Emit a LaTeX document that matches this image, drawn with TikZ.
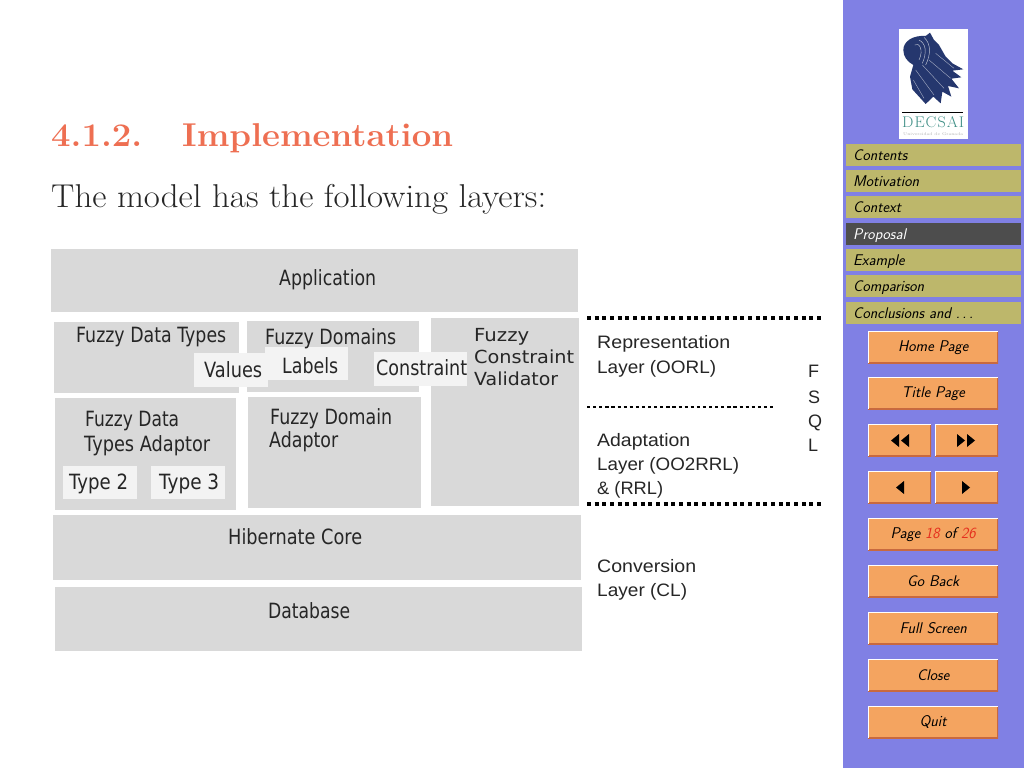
\documentclass[tikz,border=0pt]{standalone}
\usepackage{fontspec}
\usepackage{graphicx}
\newfontfamily\djvfont{DejaVu Sans}
\newfontfamily\libfont{Liberation Sans}
\newcommand{\fitw}[2]{\resizebox{#1pt}{\height}{#2}}
\definecolor{sidebg}{HTML}{8080E4}
\definecolor{menuc}{HTML}{BDB76B}
\definecolor{menud}{HTML}{4D4D4D}
\definecolor{btn}{HTML}{F4A460}
\definecolor{btnd}{HTML}{C8693F}
\definecolor{boxg}{HTML}{D9D9D9}
\definecolor{boxl}{HTML}{F3F3F3}
\definecolor{coral}{HTML}{EE6F52}
\definecolor{navy}{HTML}{25376E}
\definecolor{teal2}{HTML}{3F8F86}
\definecolor{pagered}{HTML}{E5301E}
\tikzset{
  x=1pt,y=-1pt,
  lay/.style={fill=boxg,draw=none,inner sep=0pt,anchor=north west},
  lite/.style={fill=boxl,draw=none,inner sep=0pt,anchor=north west},
  dtext/.style={inner sep=0pt,anchor=base west,font=\djvfont\fontsize{21}{24}\selectfont,text=black!85},
  widetext/.style={inner sep=0pt,anchor=base west,font=\djvfont\fontsize{18}{22}\selectfont,text=black!85},
  rtext/.style={inner sep=0pt,anchor=base west,font=\libfont\fontsize{18}{22}\selectfont,text=black!85},
  sep/.style={line width=3.5pt,dash pattern=on 4pt off 3.67pt},
  septhin/.style={line width=2.6pt,dash pattern=on 3.2pt off 2.9pt},
  menubar/.style={fill=menuc,inner sep=0pt,anchor=north west,minimum width=175pt,minimum height=22pt},
  mtext/.style={inner sep=0pt,anchor=base west,font=\sffamily\itshape\fontsize{15.5}{17}\selectfont},
  btnbox/.style={fill=btn,inner sep=0pt,anchor=north west,minimum height=32pt,
    font=\sffamily\itshape\fontsize{15.5}{17}\selectfont,
    path picture={
      \draw[btnd,line width=2.4pt] (path picture bounding box.south west)--(path picture bounding box.south east)--(path picture bounding box.north east);
      \draw[white,line width=2pt] (path picture bounding box.south west)--(path picture bounding box.north west)--(path picture bounding box.north east);
    }},
  wide/.style={minimum width=130pt},
  half/.style={minimum width=63pt},
  tri/.style={fill=black,draw=none},
}
\begin{document}
\begin{tikzpicture}
\useasboundingbox (0,0) rectangle (1024,768);
\fill[white] (0,0) rectangle (1024,768);
\fill[sidebg] (843,0) rectangle (1024,768);

% headings
\node[inner sep=0pt,anchor=base west,text=coral,font=\bfseries\fontsize{33}{36}\selectfont] (secnum) at (51,146) {\fitw{91}{4.1.2.}};
\node[inner sep=0pt,anchor=base west,text=coral,font=\bfseries\fontsize{33}{36}\selectfont] (sectitle) at (182,146) {\fitw{271}{Implementation}};
\node[inner sep=0pt,anchor=base west,text=black!85,font=\fontsize{33}{36}\selectfont] (intro) at (51,207) {\fitw{495}{The model has the following layers:}};

% layers
\node[lay,minimum width=527pt,minimum height=63pt] (app) at (51,249) {};
\node[lay,minimum width=185pt,minimum height=71pt] (fdt) at (54,322) {};
\node[lay,minimum width=172pt,minimum height=71pt] (fdom) at (247,321) {};
\node[lay,minimum width=148pt,minimum height=188pt] (fcv) at (431,318) {};
\node[lay,minimum width=181pt,minimum height=112pt] (fdta) at (55,398) {};
\node[lay,minimum width=173pt,minimum height=111pt] (fda) at (248,397) {};
\node[lay,minimum width=528pt,minimum height=65pt] (hib) at (53,515) {};
\node[lay,minimum width=527pt,minimum height=64pt] (db) at (55,587) {};
\node[lite,minimum width=74pt,minimum height=34pt] (values) at (194,353) {};
\node[lite,minimum width=83pt,minimum height=33pt] (labels) at (265,347) {};
\node[lite,minimum width=93pt,minimum height=34pt] (constraint) at (374,352) {};
\node[lite,minimum width=74pt,minimum height=33pt] (type2) at (63,466) {};
\node[lite,minimum width=74pt,minimum height=33pt] (type3) at (151,466) {};

% layer texts
\node[dtext] (tapp) at (279,285) {\fitw{97}{Application}};
\node[dtext] (tfdt) at (76,342) {\fitw{150}{Fuzzy Data Types}};
\node[dtext] (tfdom) at (265,344) {\fitw{131}{Fuzzy Domains}};
\node[dtext] (tvalues) at (204,377) {\fitw{58}{Values}};
\node[dtext] (tlabels) at (282,373) {\fitw{56}{Labels}};
\node[dtext] (tconstr) at (376,375) {\fitw{91}{Constraint}};
\node[widetext] (tfcv1) at (474,341) {\fitw{55}{Fuzzy}};
\node[widetext] (tfcv2) at (474,363) {\fitw{100}{Constraint}};
\node[widetext] (tfcv3) at (474,385) {\fitw{84}{Validator}};
\node[dtext] (tfdta1) at (85,426) {\fitw{94}{Fuzzy Data}};
\node[dtext] (tfdta2) at (84,451) {\fitw{126}{Types Adaptor}};
\node[dtext] (ttype2) at (69,489) {\fitw{59}{Type 2}};
\node[dtext] (ttype3) at (159,489) {\fitw{60}{Type 3}};
\node[dtext] (tfda1) at (270,424) {\fitw{122}{Fuzzy Domain}};
\node[dtext] (tfda2) at (269,447) {\fitw{69}{Adaptor}};
\node[dtext] (thib) at (228,544) {\fitw{134}{Hibernate Core}};
\node[dtext] (tdb) at (268,618) {\fitw{82}{Database}};

% separators
\coordinate (s1a) at (587,318); \coordinate (s1b) at (822,318);
\coordinate (s2a) at (587,407); \coordinate (s2b) at (773,407);
\coordinate (s3a) at (587,504); \coordinate (s3b) at (822,504);
\draw[sep] (s1a) -- (s1b);
\draw[septhin] (s2a) -- (s2b);
\draw[sep] (s3a) -- (s3b);

% right labels
\node[rtext] (r1) at (597,348) {\fitw{133}{Representation}};
\node[rtext] (r2) at (597,373) {\fitw{119}{Layer (OORL)}};
\node[rtext] (r3) at (597,446) {\fitw{93}{Adaptation}};
\node[rtext] (r4) at (597,470) {\fitw{142}{Layer (OO2RRL)}};
\node[rtext] (r5) at (597,494) {\fitw{66}{\& (RRL)}};
\node[rtext] (r6) at (597,572) {\fitw{99}{Conversion}};
\node[rtext] (r7) at (597,596) {\fitw{90}{Layer (CL)}};
\node[rtext] (f1) at (808,377) {F};
\node[rtext] (f2) at (808,403) {S};
\node[rtext] (f3) at (808,427) {Q};
\node[rtext] (f4) at (808,451) {L};

% logo
\node[fill=white,inner sep=0pt,anchor=north west,minimum width=69pt,minimum height=110pt] (logo) at (899,29) {};
\begin{scope}[shift={(844,0)},x=0.3333pt,y=-0.3333pt]
\fill[navy] (178,150) .. controls (178,125) and (205,105) .. (245,108) -- (258,98) -- (270,120) -- (285,135) -- (305,170) -- (325,190) -- (358,208) -- (325,212) -- (352,232) -- (322,236) -- (345,265) -- (312,258) -- (322,290) -- (295,275) -- (290,310) -- (268,290) -- (245,312) -- (225,290) -- (205,268) -- (198,230) -- (208,195) .. controls (190,185) and (178,170) .. (178,150) -- cycle;
\draw[white!70!navy,line width=0.45pt] (212,135) .. controls (225,125) and (240,150) .. (225,180)
  (225,120) .. controls (245,130) and (250,155) .. (235,190)
  (240,112) .. controls (260,130) and (262,160) .. (245,195);
\draw[white!60!navy,line width=0.4pt] (215,210) -- (270,285) (235,195) -- (300,265) (255,180) -- (320,235) (275,160) -- (330,205) (208,240) -- (240,295);
\draw[black,line width=1.4pt] (175,337) -- (358,337);
\end{scope}
\node[inner sep=0pt,anchor=base west,text=teal2,font=\fontsize{15.5}{17}\selectfont] (decsai) at (902,127.5) {\fitw{62}{D\kern1pt E\kern1pt C\kern1pt S\kern1pt A\kern1pt I}};
\node[inner sep=0pt,anchor=base west,text=black!30,font=\fontsize{4}{5}\selectfont] (ugr) at (903,135.5) {\fitw{60}{Universidad de Granada}};

% menu
\node[menubar] (m1) at (846,144) {};
\node[menubar] (m2) at (846,170) {};
\node[menubar] (m3) at (846,196) {};
\node[menubar,fill=menud] (m4) at (846,223) {};
\node[menubar] (m5) at (846,249) {};
\node[menubar] (m6) at (846,275) {};
\node[menubar] (m7) at (846,302) {};
\node[mtext] (mt1) at (853,160) {Contents};
\node[mtext] (mt2) at (853,186) {Motivation};
\node[mtext] (mt3) at (853,212) {Context};
\node[mtext,text=white] (mt4) at (853,239) {Proposal};
\node[mtext] (mt5) at (853,265) {Example};
\node[mtext] (mt6) at (853,291) {Comparison};
\node[mtext] (mt7) at (853,318) {Conclusions and .\,.\,.};

% buttons
\node[btnbox,wide] (home) at (868,331) {Home Page};
\node[btnbox,wide] (title) at (868,377) {Title Page};
\node[btnbox,half] (ffl) at (868,424) {};
\node[btnbox,half] (ffr) at (935,424) {};
\node[btnbox,half] (pl) at (868,471) {};
\node[btnbox,half] (pr) at (935,471) {};
\node[btnbox,wide] (page) at (868,518) {Page \textcolor{pagered}{18} of \textcolor{pagered}{26}};
\node[btnbox,wide] (back) at (868,565) {Go Back};
\node[btnbox,wide] (full) at (868,612) {Full Screen};
\node[btnbox,wide] (close) at (868,659) {Close};
\node[btnbox,wide] (quit) at (868,706) {Quit};

% arrow glyphs
\fill[tri] (891,440.5) -- (899,434) -- (899,447) -- cycle;
\fill[tri] (901,440.5) -- (909,434) -- (909,447) -- cycle;
\fill[tri] (957,434) -- (965,440.5) -- (957,447) -- cycle;
\fill[tri] (967,434) -- (975,440.5) -- (967,447) -- cycle;
\fill[tri] (896,487.5) -- (904,481) -- (904,494) -- cycle;
\fill[tri] (962,481) -- (970,487.5) -- (962,494) -- cycle;
\end{tikzpicture}
\end{document}
